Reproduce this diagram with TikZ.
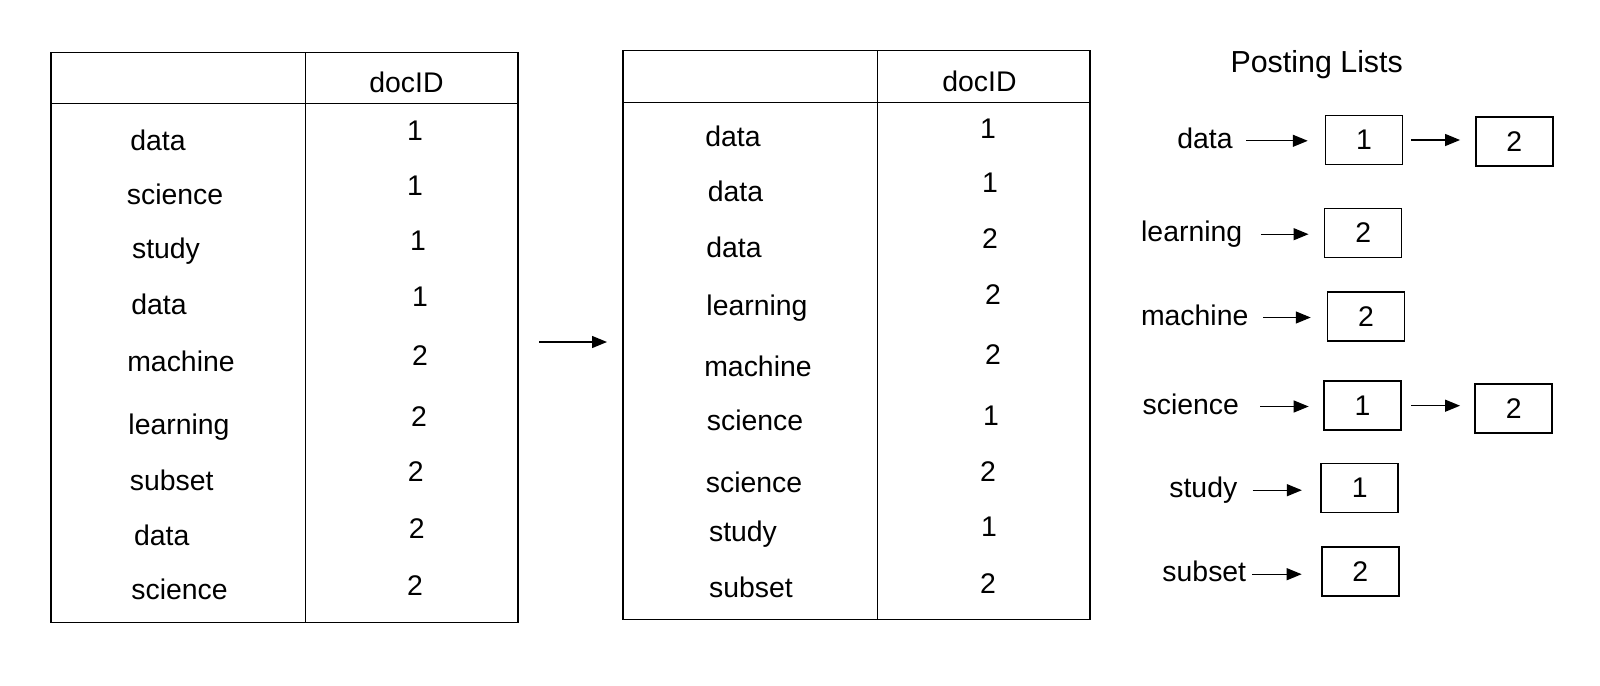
\documentclass[tikz,border=0pt]{standalone}
\usepackage{fontspec}
\setmainfont{Liberation Sans}
\usetikzlibrary{arrows.meta}
\begin{document}
\begin{tikzpicture}[x=0.5pt,y=-0.5pt,
  wd/.style={anchor=base,inner sep=0pt,font=\fontsize{14.2pt}{17pt}\selectfont},
  pw/.style={wd,text height=10.5pt,text depth=3pt},
  pbox/.style={draw,line width=0.75pt,minimum width=38.5pt,minimum height=24.5pt,inner sep=0pt,font=\fontsize{14.2pt}{17pt}\selectfont},
  frame/.style={line width=0.75pt},
  arr/.style={line width=0.65pt,-{Triangle[length=7.5pt,width=6pt]}}]
\useasboundingbox (0,0) rectangle (1600,685);
% ---- table 1
\draw[frame] (51,52.3) rectangle (518,622.7);
\draw[frame] (305.7,52.3) -- (305.7,622.7);
\draw[frame] (51,103.5) -- (518,103.5);
\node[wd] (h1) at (406.5,92.7) {docID};
\node[wd] (a1) at (158,150) {data};
\node[wd] (a2) at (175,204) {science};
\node[wd] (a3) at (166,258.3) {study};
\node[wd] (a4) at (159,314.3) {data};
\node[wd] (a5) at (181,371.7) {machine};
\node[wd] (a6) at (179,434) {learning};
\node[wd] (a7) at (171.7,490) {subset};
\node[wd] (a8) at (161.7,545) {data};
\node[wd] (a9) at (179.5,599.3) {science};
\node[wd] (n1) at (415,140) {1};
\node[wd] (n2) at (415,195) {1};
\node[wd] (n3) at (418,250.7) {1};
\node[wd] (n4) at (420,306) {1};
\node[wd] (n5) at (420,365.7) {2};
\node[wd] (n6) at (419,426) {2};
\node[wd] (n7) at (415.7,481.7) {2};
\node[wd] (n8) at (416.7,538.3) {2};
\node[wd] (n9) at (415,595) {2};
% ---- arrow between tables
\coordinate (m1) at (539,342);
\coordinate (m2) at (607,342);
\draw[arr] (m1) -- (m2);
% ---- table 2
\draw[frame] (623,50.7) rectangle (1090,619.3);
\draw[frame] (877.5,50.7) -- (877.5,619.3);
\draw[frame] (623,102.3) -- (1090,102.3);
\node[wd] (h2) at (979.5,91.5) {docID};
\node[wd] (c1) at (733,146.7) {data};
\node[wd] (c2) at (735.5,201.7) {data};
\node[wd] (c3) at (734,257) {data};
\node[wd] (c4) at (757,315) {learning};
\node[wd] (c5) at (758,376.7) {machine};
\node[wd] (c6) at (755,430.7) {science};
\node[wd] (c7) at (754,492.7) {science};
\node[wd] (c8) at (743,541.7) {study};
\node[wd] (c9) at (751,597) {subset};
\node[wd] (d1) at (988,138) {1};
\node[wd] (d2) at (990,192) {1};
\node[wd] (d3) at (990,248) {2};
\node[wd] (d4) at (993,304) {2};
\node[wd] (d5) at (993,364) {2};
\node[wd] (d6) at (991,425) {1};
\node[wd] (d7) at (988,481.7) {2};
\node[wd] (d8) at (989,536) {1};
\node[wd] (d9) at (988,593) {2};
% ---- posting lists
\node[wd,font=\fontsize{15.2pt}{18pt}\selectfont] (title) at (1316.7,72.3) {Posting Lists};
\node[pw] (p1) at (1205,148.3) {data};
\node[pw] (p2) at (1191.7,241.7) {learning};
\node[pw] (p3) at (1194.7,325) {machine};
\node[pw] (p4) at (1190.8,414) {science};
\node[pw] (p5) at (1203.3,497.7) {study};
\node[pw] (p6) at (1204.3,581.7) {subset};
\node[pbox] (b11) at (1364,140) {1};
\node[pbox] (b12) at (1514.3,141.3) {2};
\node[pbox] (b21) at (1363.2,233) {2};
\node[pbox] (b31) at (1366,316.3) {2};
\node[pbox] (b41) at (1362.5,405.7) {1};
\node[pbox] (b42) at (1513.7,408.7) {2};
\node[pbox] (b51) at (1359.7,487.8) {1};
\node[pbox] (b61) at (1360.3,571.3) {2};
\draw[arr,shorten <=6.6pt,shorten >=8.5pt] (p1.east) -- (p1.east -| b11.west);
\draw[arr,shorten <=9.1pt,shorten >=7.7pt] (p2.east) -- (p2.east -| b21.west);
\draw[arr,shorten <=7.2pt,shorten >=8pt] (p3.east) -- (p3.east -| b31.west);
\draw[arr,shorten <=10.5pt,shorten >=7.3pt] (p4.east) -- (p4.east -| b41.west);
\draw[arr,shorten <=7.5pt,shorten >=9.3pt] (p5.east) -- (p5.east -| b51.west);
\draw[arr,shorten <=2.8pt,shorten >=9.7pt] (p6.east) -- (p6.east -| b61.west);
\draw[arr,shorten <=4pt,shorten >=7.5pt] (b11.east) -- (b11.east -| b12.west);
\draw[arr,shorten <=4.8pt,shorten >=7.2pt] (b41.east) -- (b41.east -| b42.west);
\end{tikzpicture}
\end{document}
